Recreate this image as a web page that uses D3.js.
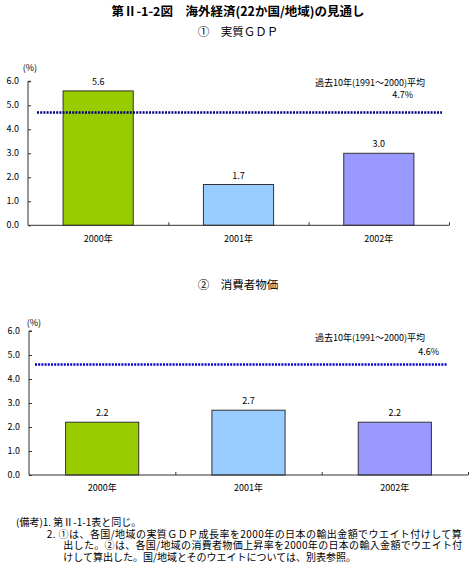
<!DOCTYPE html>
<html>
<head>
<meta charset="utf-8">
<script src="https://cdn.jsdelivr.net/npm/d3@7"></script>
<style>
body { margin: 0; background: #fff; }
svg { display: block; font-family: "Noto Sans CJK JP", "Noto Sans", sans-serif; }
.axis path, .axis line { stroke: #333; }
.bar { stroke: #333; stroke-width: 1; }
.value-label, .cat-label, .unit-label, .avg-label { font-size: 9px; fill: #000; }
.note { font-size: 10px; fill: #000; }
</style>
</head>
<body>
<div id="chart"></div>
<script>
const years = ['2000年', '2001年', '2002年'];
const gdpValues = [5.6, 1.7, 3.0];
const cpiValues = [2.2, 2.7, 2.2];
const gdpAverage = 4.7;
const cpiAverage = 4.6;
const yTicks = [0, 1, 2, 3, 4, 5, 6];
const barColors = ['#99cc00', '#99ccff', '#9999ff'];
const avgText = '過去10年(1991～2000)平均';
const notes = [
    '(備考)1. 第Ⅱ-1-1表と同じ。',
    '2. ①は、各国/地域の実質ＧＤＰ成長率を2000年の日本の輸出金額でウエイト付けして算',
    '出した。②は、各国/地域の消費者物価上昇率を2000年の日本の輸入金額でウエイト付',
    'けして算出した。国/地域とそのウエイトについては、別表参照。'
];

const width = 474;
const height = 565;

const svg = d3.select('#chart').append('svg')
    .attr('width', width)
    .attr('height', height);

svg.append('text')
    .attr('x', 238)
    .attr('y', 16)
    .attr('text-anchor', 'middle')
    .style('font-size', '12.5px')
    .style('font-weight', 'bold')
    .text('第Ⅱ-1-2図　海外経済(22か国/地域)の見通し');

const panels = [
    {
        subtitle: '①　実質ＧＤＰ', subtitleY: 36,
        values: gdpValues, average: gdpAverage, avgColor: '#000080',
        x0: 28, x1: 449, y0: 225.3, y6: 81.3,
        avgFrom: 9, avgTo: 7,
        avgTextX: 315, avgTextY: 86, avgValX: 413, avgValY: 98,
        unitX: 22.7, unitY: 71, catY: 241.5
    },
    {
        subtitle: '②　消費者物価', subtitleY: 289,
        values: cpiValues, average: cpiAverage, avgColor: '#0000cc',
        x0: 29, x1: 468, y0: 475, y6: 331,
        avgFrom: 6, avgTo: 21,
        avgTextX: 315, avgTextY: 341, avgValX: 439, avgValY: 355,
        unitX: 26.7, unitY: 326, catY: 491
    }
];

panels.forEach(p => {
    const x = d3.scaleBand()
        .domain(years)
        .range([p.x0, p.x1])
        .paddingInner(0.5)
        .paddingOuter(0.25);

    const y = d3.scaleLinear()
        .domain([0, 6])
        .range([p.y0, p.y6]);

    const g = svg.append('g');

    g.append('text')
        .attr('x', 238)
        .attr('y', p.subtitleY)
        .attr('text-anchor', 'middle')
        .style('font-size', '11.5px')
        .text(p.subtitle);

    g.selectAll('.bar').data(p.values)
        .enter().append('rect')
        .attr('class', 'bar')
        .attr('x', (d, i) => x(years[i]))
        .attr('width', x.bandwidth())
        .attr('y', d => y(d))
        .attr('height', d => y(0) - y(d))
        .attr('fill', (d, i) => barColors[i]);

    g.selectAll('.value-label').data(p.values)
        .enter().append('text')
        .attr('class', 'value-label')
        .attr('x', (d, i) => x(years[i]) + x.bandwidth() / 2)
        .attr('y', d => y(d) - 6)
        .attr('text-anchor', 'middle')
        .text(d => d.toFixed(1));

    // y axis with inward ticks
    const yAxis = d3.axisRight(y)
        .tickValues(yTicks)
        .tickSize(3)
        .tickFormat(() => '');
    g.append('g').attr('class', 'axis')
        .attr('transform', `translate(${p.x0},0)`)
        .call(yAxis)
        .call(s => s.select('.domain').attr('d', `M3,${p.y6}H0V${p.y0}`));

    g.selectAll('.y-label').data(yTicks)
        .enter().append('text')
        .attr('class', 'value-label')
        .attr('x', p.x0 - 9)
        .attr('y', d => y(d) + 3)
        .attr('text-anchor', 'end')
        .text(d => d.toFixed(1));

    // x axis: boundaries between categories, ticks pointing up
    const xEdge = d3.scaleLinear().domain([0, years.length]).range([p.x0, p.x1]);
    const xAxis = d3.axisTop(xEdge)
        .tickValues([1, 2, 3])
        .tickSize(3)
        .tickFormat(() => '');
    g.append('g').attr('class', 'axis')
        .attr('transform', `translate(0,${p.y0})`)
        .call(xAxis)
        .call(s => s.select('.domain').attr('d', `M${p.x0},0H${p.x1}`));

    g.selectAll('.cat-label').data(years)
        .enter().append('text')
        .attr('class', 'cat-label')
        .attr('x', d => x(d) + x.bandwidth() / 2)
        .attr('y', p.catY)
        .attr('text-anchor', 'middle')
        .text(d => d);

    g.append('line')
        .attr('x1', p.x0 + p.avgFrom)
        .attr('x2', p.x1 - p.avgTo)
        .attr('y1', y(p.average))
        .attr('y2', y(p.average))
        .attr('stroke', p.avgColor)
        .attr('stroke-width', 2.5)
        .attr('stroke-dasharray', '2,1.2');

    g.append('text')
        .attr('class', 'avg-label')
        .attr('x', p.avgTextX)
        .attr('y', p.avgTextY)
        .text(avgText);

    g.append('text')
        .attr('class', 'avg-label')
        .attr('x', p.avgValX)
        .attr('y', p.avgValY)
        .attr('text-anchor', 'end')
        .text(p.average.toFixed(1) + '%');

    g.append('text')
        .attr('class', 'unit-label')
        .attr('x', p.unitX)
        .attr('y', p.unitY)
        .text('(%)');
});

const noteX = [16, 46.7, 63.3, 63.3];
const noteY = [526, 537.5, 549, 560.5];
const noteLen = [null, 415, 399, null];

svg.selectAll('.note').data(notes)
    .enter().append('text')
    .attr('class', 'note')
    .attr('x', (d, i) => noteX[i])
    .attr('y', (d, i) => noteY[i])
    .attr('textLength', (d, i) => noteLen[i])
    .text(d => d);
</script>
</body>
</html>
